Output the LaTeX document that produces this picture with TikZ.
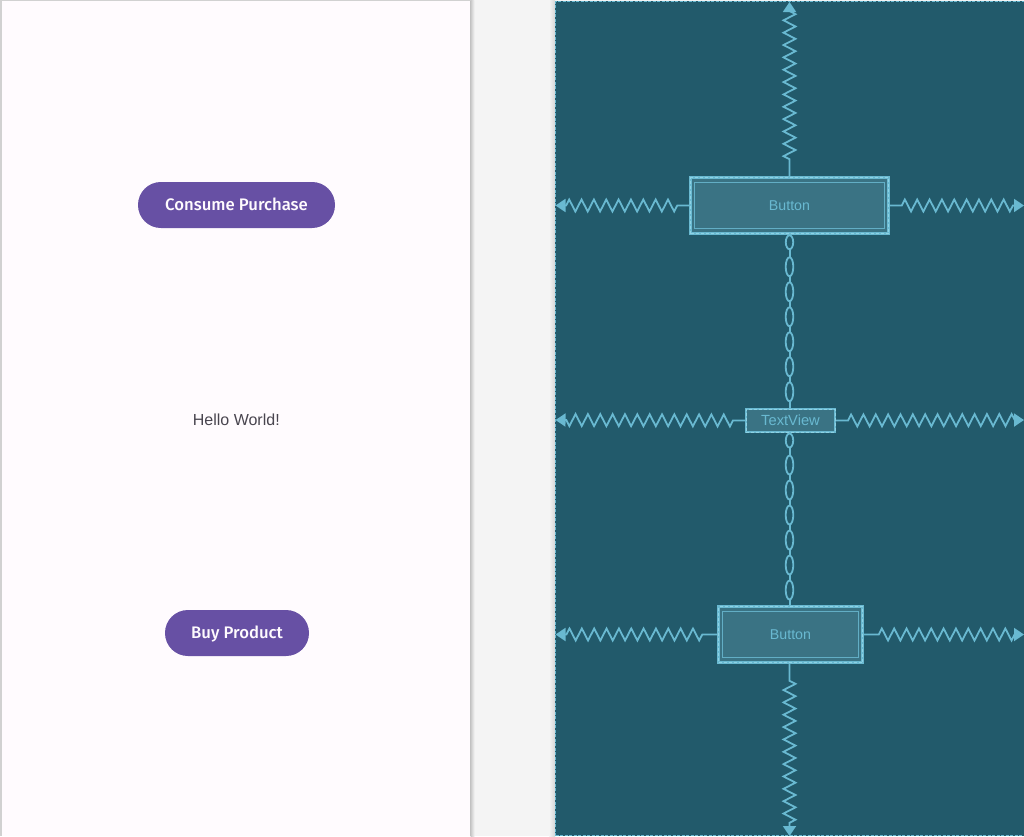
\documentclass[tikz,border=0pt]{standalone}
\usepackage{fontspec}
\setmainfont{Liberation Sans}
\newfontfamily\medfont{Fira Sans Medium}
\usetikzlibrary{arrows.meta,decorations.pathmorphing,decorations.markings}
\definecolor{panelw}{HTML}{FFFBFE}
\definecolor{gapc}{HTML}{F4F4F4}
\definecolor{bluep}{HTML}{225A6B}
\definecolor{blueb}{HTML}{3A7384}
\definecolor{cyanl}{HTML}{69B9D1}
\definecolor{cyand}{HTML}{8FD2E4}
\definecolor{purp}{HTML}{6750A4}
\definecolor{txtg}{HTML}{49454F}
\tikzset{
  pill/.style={fill=purp,rounded corners=22.9pt,text=panelw,font=\medfont\fontsize{16.7}{18}\selectfont,
    inner sep=0pt,anchor=center,text height=11.6pt,text depth=0pt},
  outerbox/.style={draw=cyanl,line width=2.5pt,fill=blueb,inner sep=0pt,
    postaction={draw=cyand,line width=0.8pt,dash pattern=on 3pt off 2pt}},
  innerbox/.style={draw=cyanl!85!blueb,line width=1.6pt,inner sep=0pt,text=cyanl,
    font=\fontsize{14.2}{15}\selectfont},
  tvbox/.style={draw=cyanl,line width=2pt,fill=blueb,inner sep=0pt,text=cyanl,
    font=\fontsize{14.7}{16}\selectfont},
  tvdash/.style={postaction={draw=cyand,line width=0.7pt,dash pattern=on 3pt off 2pt}},
  spring/.style={draw=cyanl,line width=1.8pt,line join=miter,
    -{Triangle[length=10pt,width=13pt,fill=cyanl]},
    decorate,decoration={zigzag,segment length=12.35pt,amplitude=6pt,pre length=#1,post length=9pt}},
  spring/.default=12pt,
  chain/.style={draw=cyanl,line width=2pt,postaction={decorate},
    decoration={markings,
      mark=at position 7.5pt with {\draw[draw=cyanl,line width=1.8pt,fill=bluep] (0,0) ellipse [x radius=7pt,y radius=3.7pt];},
      mark=between positions 32pt and 158pt step 25pt with {\draw[draw=cyanl,line width=1.8pt,fill=bluep] (0,0) ellipse [x radius=9.5pt,y radius=3.8pt];}}},
}
\begin{document}
\begin{tikzpicture}[x=1pt,y=-1pt]
\useasboundingbox (0,0) rectangle (1024,836);
% backgrounds
\fill[gapc] (0,0) rectangle (1024,836);
\fill[panelw] (0,0) rectangle (470.5,836);
\fill[black!18] (0,0) rectangle (1.8,836);
\fill[black!18] (0,0) rectangle (470.5,1);
\shade[left color=black!22,right color=gapc] (470.5,0) rectangle (474.5,836);
\shade[left color=gapc,right color=black!16] (549,0) rectangle (555,836);
\fill[bluep] (555,1) rectangle (1024,836);
\draw[cyanl,line width=1pt,dash pattern=on 3pt off 1.5pt] (555.5,836) -- (555.5,1.5) -- (1024,1.5);
\draw[cyanl,line width=1pt,dash pattern=on 3pt off 1.5pt] (555.5,835.5) -- (1024,835.5);
% left panel
\node[pill,minimum width=197pt,minimum height=46pt] (consume) at (236.5,205) {Consume Purchase};
\node[pill,minimum width=144pt,minimum height=46pt] (buy) at (237,633) {Buy Product};
\node[text=txtg,font=\fontsize{16}{18}\selectfont,inner sep=0pt] (hello) at (236.3,420) {Hello World!};
% blueprint nodes
\node[outerbox,minimum width=198pt,minimum height=56pt] (btnA) at (789.5,205.5) {};
\node[innerbox,minimum width=190pt,minimum height=46pt] (btnAin) at (789.5,205.5) {Button};
\node[outerbox,minimum width=144pt,minimum height=56pt] (btnB) at (790.5,634.5) {};
\node[innerbox,minimum width=136pt,minimum height=46pt] (btnBin) at (790.5,634.5) {Button};
\node[tvbox,tvdash,minimum width=89pt,minimum height=23pt] (tv) at (790.5,420.5) {TextView};
% free ends
\coordinate (topE) at (789.5,2);
\coordinate (botE) at (789.5,836);
\coordinate (aL) at (555.5,205.5);
\coordinate (aR) at (1024,205.5);
\coordinate (tL) at (555.5,420);
\coordinate (tR) at (1024,420);
\coordinate (bL) at (555.5,634.5);
\coordinate (bR) at (1024,634.5);
% springs
\draw[spring=17pt] (btnA.north) -- (topE);
\draw[spring=12pt] (btnA.west) -- (aL);
\draw[spring=12pt] (btnA.east) -- (aR);
\draw[spring=12pt] (tv.west) -- (tL);
\draw[spring=12pt] (tv.east) -- (tR);
\draw[spring=15pt] (btnB.west) -- (bL);
\draw[spring=15pt] (btnB.east) -- (bR);
\draw[spring=17pt] (btnB.south -| botE) -- (botE);
% chains
\draw[chain] (btnA.south) -- (btnA.south |- tv.north);
\draw[chain] (btnA.south |- tv.south) -- (btnA.south |- btnB.north);
\end{tikzpicture}
\end{document}
